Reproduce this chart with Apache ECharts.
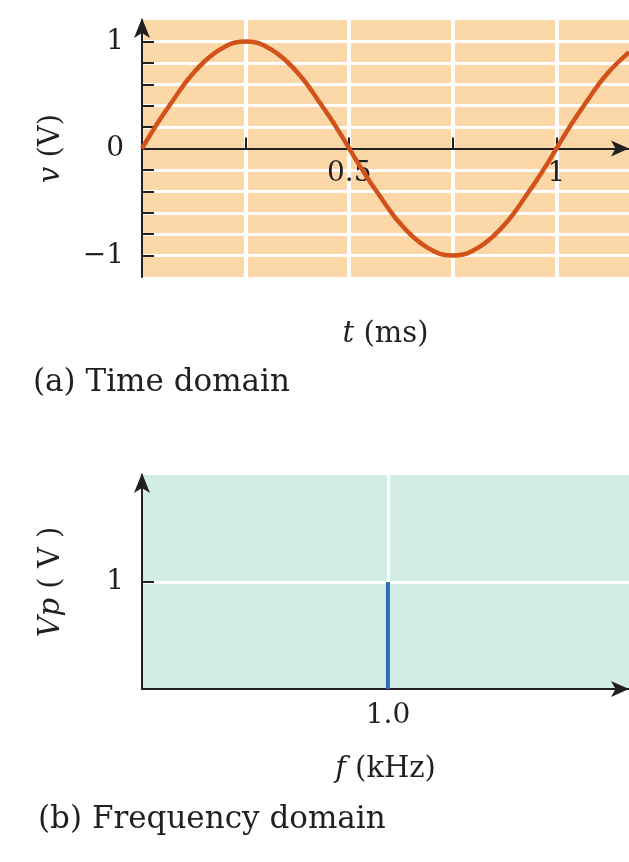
<!DOCTYPE html>
<html>
<head>
<meta charset="utf-8">
<script src="https://cdn.jsdelivr.net/npm/echarts@6/dist/echarts.min.js"></script>
<style>
html,body{margin:0;padding:0;background:#fff;}
#c{width:629px;height:862px;}
</style>
</head>
<body>
<div id="c"></div>
<script>
// ---- Data ----
const timeMs = [0, 0.025, 0.05, 0.075, 0.10, 0.125, 0.15, 0.175, 0.20, 0.225, 0.25, 0.275, 0.30, 0.325, 0.35, 0.375, 0.40, 0.425, 0.45, 0.475,
                0.50, 0.525, 0.55, 0.575, 0.60, 0.625, 0.65, 0.675, 0.70, 0.725, 0.75, 0.775, 0.80, 0.825, 0.85, 0.875, 0.90, 0.925, 0.95, 0.975,
                1.00, 1.025, 1.05, 1.075, 1.10, 1.125, 1.15, 1.175];
const voltage = [0, 0.16, 0.31, 0.45, 0.59, 0.71, 0.81, 0.89, 0.95, 0.99, 1, 0.99, 0.95, 0.89, 0.81, 0.71, 0.59, 0.45, 0.31, 0.16,
                 0, -0.16, -0.31, -0.45, -0.59, -0.71, -0.81, -0.89, -0.95, -0.99, -1, -0.99, -0.95, -0.89, -0.81, -0.71, -0.59, -0.45, -0.31, -0.16,
                 0, 0.16, 0.31, 0.45, 0.59, 0.71, 0.81, 0.90];
const freqKHz = [1.0, 1.0];
const peakV = [0, 1];
const timeTickValues = [0.25, 0.5, 0.75, 1];
const timeLabelValues = [0.5, 1];
const voltTickValues = [-1, -0.8, -0.6, -0.4, -0.2, 0.2, 0.4, 0.6, 0.8, 1];
const voltLabelValues = [-1, 0, 1];
const freqLabelValues = [1.0];
const peakLabelValues = [1];

const FONT = 'DejaVu Serif';
const INK = '#231f20';

const chart = echarts.init(document.getElementById('c'), null, {renderer: 'canvas'});

function lbl(v) {
  if (Math.abs(v) < 1e-9) return '0';
  return (v < 0 ? '\u2212' : '') + String(Math.abs(v));
}
function nameStyle() {
  return {fontFamily: FONT, fontSize: 29, color: INK,
          rich: {i: {fontFamily: FONT, fontSize: 29, fontStyle: 'italic', color: INK}}};
}

const option = {
  animation: false,
  backgroundColor: '#ffffff',
  title: [
    {text: '(a) Time domain', left: 33, top: 366, padding: 0,
     textStyle: {fontFamily: FONT, fontSize: 31, fontWeight: 'normal', color: INK, lineHeight: 34}},
    {text: '(b) Frequency domain', left: 38, top: 803, padding: 0,
     textStyle: {fontFamily: FONT, fontSize: 31, fontWeight: 'normal', color: INK, lineHeight: 34}}
  ],
  grid: [
    {left: 142, right: 0, top: 20, height: 257, show: true, backgroundColor: '#fcd8a8', borderWidth: 0, containLabel: false},
    {left: 142, right: 0, top: 475, height: 214, show: true, backgroundColor: '#d2ede6', borderWidth: 0, containLabel: false}
  ],
  xAxis: [
    {
      type: 'value', gridIndex: 0, min: 0, max: 1.175, interval: 0.25,
      name: '{i|t} (ms)', nameLocation: 'middle', nameGap: 43,
      nameTextStyle: nameStyle(),
      axisLine: {show: true, onZero: true, lineStyle: {color: INK, width: 2}, symbol: ['none', 'arrow'], symbolSize: [12, 18], symbolOffset: [0, 0]},
      axisTick: {show: true, inside: true, length: 11, lineStyle: {color: INK, width: 2}, customValues: timeTickValues},
      axisLabel: {show: true, margin: -117, fontFamily: FONT, fontSize: 28, color: INK, customValues: timeLabelValues,
                  formatter: function (v) { return String(v); }},
      splitLine: {show: true, interval: 0, showMinLine: true, showMaxLine: true, lineStyle: {color: '#ffffff', width: 4}}
    },
    {
      type: 'value', gridIndex: 1, min: 0, max: 1.98, interval: 1,
      name: '{i|f} (kHz)', nameLocation: 'middle', nameGap: 66,
      nameTextStyle: nameStyle(),
      axisLine: {show: true, onZero: false, lineStyle: {color: INK, width: 2}, symbol: ['none', 'arrow'], symbolSize: [12, 18], symbolOffset: [0, 0]},
      axisTick: {show: false},
      axisLabel: {show: true, margin: 13, fontFamily: FONT, fontSize: 28, color: INK, customValues: freqLabelValues,
                  formatter: function (v) { return v.toFixed(1); }},
      splitLine: {show: true, interval: 0, showMinLine: false, showMaxLine: false, lineStyle: {color: '#ffffff', width: 3}}
    }
  ],
  yAxis: [
    {
      type: 'value', gridIndex: 0, min: -1.2, max: 1.2, interval: 0.2,
      name: '{i|v} (V)', nameLocation: 'middle', nameGap: 76, nameRotate: 90,
      nameTextStyle: nameStyle(),
      axisLine: {show: true, onZero: false, lineStyle: {color: INK, width: 2}, symbol: ['none', 'arrow'], symbolSize: [12, 20], symbolOffset: [0, 2]},
      axisTick: {show: true, inside: true, length: 12, lineStyle: {color: INK, width: 2}, customValues: voltTickValues},
      axisLabel: {show: true, margin: 18, fontFamily: FONT, fontSize: 28, color: INK, customValues: voltLabelValues,
                  formatter: lbl},
      splitLine: {show: true, interval: 0, showMinLine: true, showMaxLine: true, lineStyle: {color: '#ffffff', width: 3}}
    },
    {
      type: 'value', gridIndex: 1, min: 0, max: 2, interval: 1,
      name: '{i|Vp} ( V )', nameLocation: 'middle', nameGap: 76, nameRotate: 90,
      nameTextStyle: nameStyle(),
      axisLine: {show: true, onZero: false, lineStyle: {color: INK, width: 2}, symbol: ['none', 'arrow'], symbolSize: [12, 20], symbolOffset: [0, 2]},
      axisTick: {show: true, inside: true, length: 12, lineStyle: {color: INK, width: 2}, customValues: peakLabelValues},
      axisLabel: {show: true, margin: 18, fontFamily: FONT, fontSize: 28, color: INK, customValues: peakLabelValues,
                  formatter: lbl},
      splitLine: {show: true, interval: 0, showMinLine: true, showMaxLine: true, lineStyle: {color: '#ffffff', width: 3}}
    }
  ],
  series: [
    {
      type: 'line', xAxisIndex: 0, yAxisIndex: 0, smooth: true, showSymbol: false, clip: true,
      data: timeMs.map(function (t, i) { return [t, voltage[i]]; }),
      lineStyle: {color: '#d2521a', width: 4.5}, itemStyle: {color: '#d2521a'}
    },
    {
      type: 'line', xAxisIndex: 1, yAxisIndex: 1, showSymbol: false,
      data: freqKHz.map(function (f, i) { return [f, peakV[i]]; }),
      lineStyle: {color: '#2f6fb8', width: 4}, itemStyle: {color: '#2f6fb8'}
    }
  ]
};
chart.setOption(option);
</script>
</body>
</html>
